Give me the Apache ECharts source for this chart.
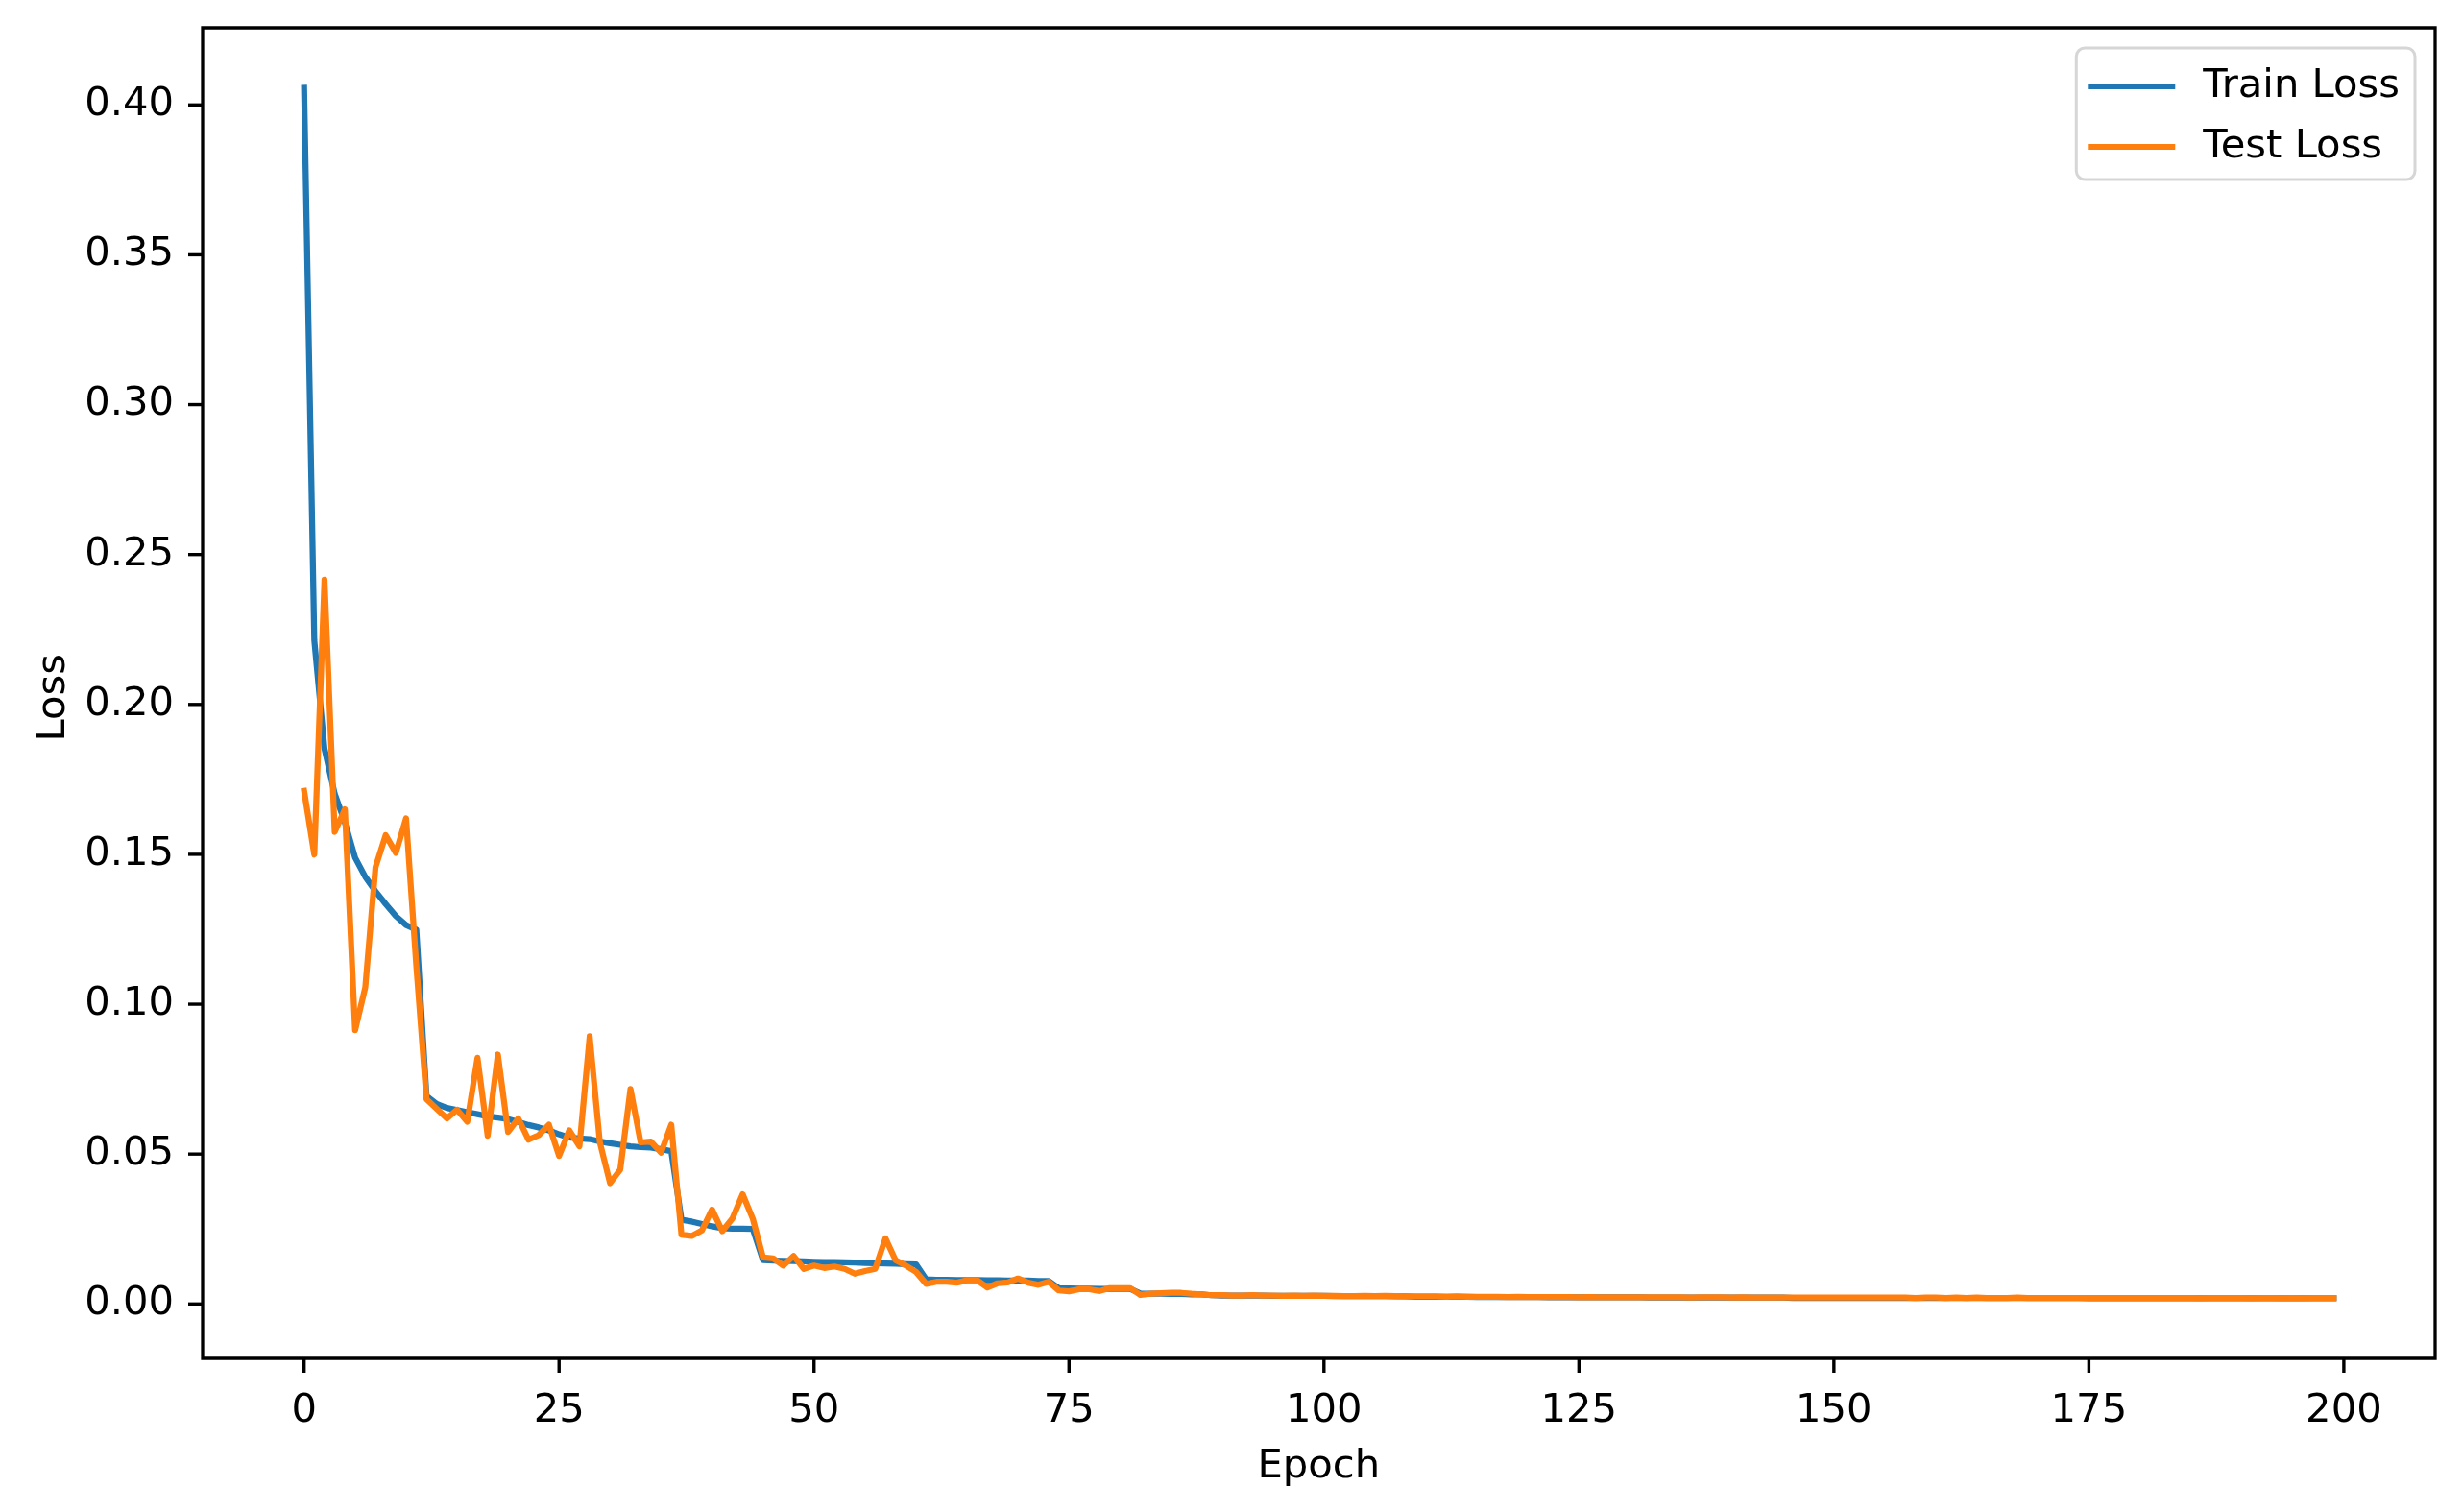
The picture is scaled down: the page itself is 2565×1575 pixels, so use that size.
<!DOCTYPE html>
<html>
<head>
<meta charset="utf-8">
<script src="https://cdn.jsdelivr.net/npm/echarts@6/dist/echarts.min.js"></script>
<style>
html,body{margin:0;padding:0;background:#fff;}
#chart{width:2565px;height:1575px;}
</style>
</head>
<body>
<div id="chart"></div>
<script>
const seriesNames = ['Train Loss', 'Test Loss'];
const xTicks = [0, 25, 50, 75, 100, 125, 150, 175, 200];
const yTicks = [0, 0.05, 0.1, 0.15, 0.2, 0.25, 0.3, 0.35, 0.4];

const trainLoss = [
  0.4057, 0.2214, 0.1852, 0.1702, 0.1607, 0.1489, 0.1425, 0.1377, 0.1334, 0.1294,
  0.1264, 0.1249, 0.0694, 0.0667, 0.0654, 0.0647, 0.0640, 0.0633, 0.0626, 0.0622,
  0.0617, 0.0607, 0.0597, 0.0589, 0.0579, 0.0566, 0.0555, 0.0552, 0.0550, 0.0542,
  0.0536, 0.0531, 0.0526, 0.0523, 0.0522, 0.0516, 0.0510, 0.0281, 0.0275, 0.0267,
  0.0259, 0.0253, 0.0251, 0.0251, 0.0250, 0.0146, 0.0145, 0.0144, 0.0143, 0.0142,
  0.0141, 0.0140, 0.0140, 0.0139, 0.0138, 0.0137, 0.0136, 0.0135, 0.0134, 0.0133,
  0.0132, 0.0082, 0.0081, 0.0081, 0.0080, 0.0080, 0.0080, 0.0079, 0.0079, 0.0078,
  0.0078, 0.0078, 0.0077, 0.0077, 0.0053, 0.0052, 0.0051, 0.0051, 0.0050, 0.0050,
  0.0050, 0.0050, 0.0035, 0.0034, 0.0034, 0.0033, 0.0033, 0.0032, 0.0032, 0.0029,
  0.0028, 0.0028, 0.0028, 0.0028, 0.0028, 0.0027, 0.0027, 0.0027, 0.0027, 0.0027,
  0.0027, 0.0026, 0.0026, 0.0026, 0.0026, 0.0026, 0.0026, 0.0025, 0.0025, 0.0024,
  0.0024, 0.0024, 0.0024, 0.0024, 0.0024, 0.0023, 0.0023, 0.0023, 0.0023, 0.0023,
  0.0023, 0.0023, 0.0022, 0.0022, 0.0022, 0.0022, 0.0022, 0.0022, 0.0022, 0.0022,
  0.0022, 0.0022, 0.0021, 0.0021, 0.0021, 0.0021, 0.0021, 0.0021, 0.0021, 0.0021,
  0.0021, 0.0021, 0.0021, 0.0021, 0.0021, 0.0021, 0.0020, 0.0020, 0.0020, 0.0020,
  0.0020, 0.0020, 0.0020, 0.0020, 0.0020, 0.0020, 0.0020, 0.0020, 0.0020, 0.0020,
  0.0020, 0.0020, 0.0020, 0.0020, 0.0020, 0.0020, 0.0020, 0.0020, 0.0020, 0.0020,
  0.0020, 0.0020, 0.0020, 0.0020, 0.0020, 0.0019, 0.0019, 0.0019, 0.0019, 0.0019,
  0.0019, 0.0019, 0.0019, 0.0019, 0.0019, 0.0019, 0.0019, 0.0019, 0.0019, 0.0019,
  0.0019, 0.0019, 0.0019, 0.0019, 0.0019, 0.0019, 0.0019, 0.0019, 0.0019, 0.0019
];

const testLoss = [
  0.1712, 0.1499, 0.2416, 0.1575, 0.1650, 0.0913, 0.1056, 0.1457, 0.1564, 0.1505,
  0.1620, 0.1130, 0.0683, 0.0651, 0.0619, 0.0648, 0.0608, 0.0821, 0.0561, 0.0832,
  0.0574, 0.0619, 0.0548, 0.0563, 0.0598, 0.0494, 0.0579, 0.0526, 0.0893, 0.0539,
  0.0403, 0.0448, 0.0717, 0.0539, 0.0542, 0.0505, 0.0598, 0.0231, 0.0227, 0.0245,
  0.0315, 0.0243, 0.0285, 0.0366, 0.0284, 0.0155, 0.0152, 0.0128, 0.0160, 0.0117,
  0.0128, 0.0120, 0.0125, 0.0117, 0.0101, 0.0110, 0.0117, 0.0219, 0.0146, 0.0128,
  0.0107, 0.0067, 0.0074, 0.0074, 0.0071, 0.0079, 0.0079, 0.0055, 0.0069, 0.0072,
  0.0085, 0.0071, 0.0064, 0.0074, 0.0045, 0.0042, 0.0049, 0.0049, 0.0043, 0.0053,
  0.0053, 0.0053, 0.0030, 0.0034, 0.0036, 0.0037, 0.0037, 0.0034, 0.0032, 0.0029,
  0.0029, 0.0028, 0.0028, 0.0029, 0.0028, 0.0028, 0.0027, 0.0028, 0.0027, 0.0028,
  0.0027, 0.0027, 0.0026, 0.0026, 0.0027, 0.0026, 0.0027, 0.0026, 0.0025, 0.0025,
  0.0025, 0.0025, 0.0024, 0.0025, 0.0024, 0.0024, 0.0024, 0.0024, 0.0023, 0.0024,
  0.0023, 0.0023, 0.0023, 0.0023, 0.0023, 0.0022, 0.0023, 0.0022, 0.0022, 0.0022,
  0.0022, 0.0022, 0.0022, 0.0022, 0.0022, 0.0022, 0.0021, 0.0022, 0.0022, 0.0022,
  0.0021, 0.0022, 0.0021, 0.0021, 0.0021, 0.0021, 0.0021, 0.0021, 0.0021, 0.0021,
  0.0021, 0.0021, 0.0021, 0.0021, 0.0021, 0.0021, 0.0021, 0.0021, 0.0020, 0.0021,
  0.0021, 0.0020, 0.0021, 0.0020, 0.0021, 0.0020, 0.0020, 0.0020, 0.0021, 0.0020,
  0.0020, 0.0020, 0.0020, 0.0020, 0.0020, 0.0020, 0.0020, 0.0020, 0.0020, 0.0020,
  0.0020, 0.0020, 0.0020, 0.0020, 0.0020, 0.0020, 0.0019, 0.0020, 0.0020, 0.0020,
  0.0020, 0.0019, 0.0020, 0.0020, 0.0019, 0.0020, 0.0019, 0.0020, 0.0020, 0.0020
];

const FONT = 'DejaVu Sans';
const FS = 41.7;
const TICK_LEN = 15;
const TICK_W = 3.4;

const chart = echarts.init(document.getElementById('chart'), null, {renderer: 'canvas'});
const toPairs = arr => arr.map((v, i) => [i, v]);

// Axes frame (matplotlib spines), in page pixels
const FRAME = {left: 211, top: 29, right: 2536, bottom: 1415};
// Grid spans exactly the tick range; axes are offset out to the frame
const GRID = {left: 316.7, right: 2565 - 2440.9, top: 109.3, bottom: 1575 - 1358.3};
const gridW = 2565 - GRID.left - GRID.right;
const gridH = 1575 - GRID.top - GRID.bottom;

// Decorative tick marks: same linear mapping as the grid extent (0..200, 0..0.40)
const xTickPos = v => GRID.left + (v - xTicks[0]) / (xTicks[xTicks.length - 1] - xTicks[0]) * gridW;
const yTickPos = v => GRID.top + gridH - (v - yTicks[0]) / (yTicks[yTicks.length - 1] - yTicks[0]) * gridH;

const elements = [{
  type: 'rect', z: 100, silent: true,
  shape: {x: FRAME.left, y: FRAME.top, width: FRAME.right - FRAME.left, height: FRAME.bottom - FRAME.top},
  style: {fill: 'none', stroke: '#000', lineWidth: 3.3}
}];
xTicks.forEach(v => {
  const px = xTickPos(v);
  elements.push({
    type: 'line', z: 100, silent: true,
    shape: {x1: px, y1: FRAME.bottom, x2: px, y2: FRAME.bottom + TICK_LEN},
    style: {stroke: '#000', lineWidth: TICK_W, fill: null}
  });
});
yTicks.forEach(v => {
  const py = yTickPos(v);
  elements.push({
    type: 'line', z: 100, silent: true,
    shape: {x1: FRAME.left - TICK_LEN, y1: py, x2: FRAME.left, y2: py},
    style: {stroke: '#000', lineWidth: TICK_W, fill: null}
  });
});

const option = {
  animation: false,
  backgroundColor: '#ffffff',
  grid: {left: GRID.left, right: GRID.right, top: GRID.top, bottom: GRID.bottom, show: false},
  graphic: elements,
  legend: {
    orient: 'vertical',
    right: 50, top: 50, z: 200,
    data: seriesNames.map(n => ({name: n, icon: 'rect'})),
    itemWidth: 91, itemHeight: 6, itemGap: 13,
    selectedMode: false,
    backgroundColor: '#fff',
    borderColor: '#d6d6d6', borderWidth: 3, borderRadius: 9,
    padding: [15, 16, 9, 12],
    textStyle: {fontFamily: FONT, fontSize: FS, color: '#000', lineHeight: 50, padding: [0, 0, 0, 24]}
  },
  xAxis: {
    type: 'value',
    min: xTicks[0], max: xTicks[xTicks.length - 1], interval: 25,
    offset: FRAME.bottom - (1575 - GRID.bottom),
    name: 'Epoch', nameLocation: 'middle', nameGap: 92,
    nameTextStyle: {fontFamily: FONT, fontSize: FS, color: '#000', padding: [0, 11, 0, 0]},
    axisLine: {show: false, onZero: false},
    splitLine: {show: false},
    axisTick: {show: false},
    axisLabel: {margin: 34, fontFamily: FONT, fontSize: FS, color: '#000',
      formatter: v => String(v)}
  },
  yAxis: {
    type: 'value',
    min: yTicks[0], max: yTicks[yTicks.length - 1], interval: 0.05,
    offset: GRID.left - FRAME.left,
    name: 'Loss', nameLocation: 'middle', nameGap: 133, nameRotate: 90,
    nameTextStyle: {fontFamily: FONT, fontSize: FS, color: '#000', padding: [0, 0, 0, 14]},
    axisLine: {show: false, onZero: false},
    splitLine: {show: false},
    axisTick: {show: false},
    axisLabel: {margin: 30, fontFamily: FONT, fontSize: FS, color: '#000',
      padding: [8, 0, 0, 0],
      formatter: v => Number(v).toFixed(2)}
  },
  series: [
    {
      name: seriesNames[0], type: 'line', data: toPairs(trainLoss), clip: false,
      showSymbol: false, symbol: 'none', color: '#1f77b4',
      lineStyle: {width: 6.25, color: '#1f77b4', cap: 'square', join: 'round'}, z: 2
    },
    {
      name: seriesNames[1], type: 'line', data: toPairs(testLoss), clip: false,
      showSymbol: false, symbol: 'none', color: '#ff7f0e',
      lineStyle: {width: 6.25, color: '#ff7f0e', cap: 'square', join: 'round'}, z: 3
    }
  ]
};
chart.setOption(option);
</script>
</body>
</html>
